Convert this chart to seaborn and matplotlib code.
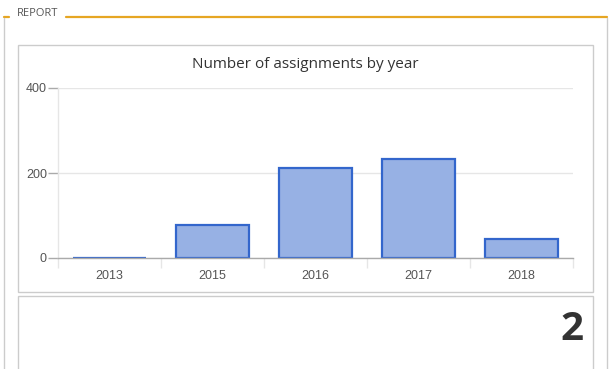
import matplotlib
matplotlib.use("Agg")
import matplotlib.pyplot as plt
import seaborn as sns
import pandas as pd
from matplotlib.lines import Line2D
from matplotlib.patches import Rectangle

years = ["2013", "2015", "2016", "2017", "2018"]
assignments = [1, 78, 212, 233, 45]
y_ticks = [0, 200, 400]
title = "Number of assignments by year"
kpi_value = "2"
section_label = "REPORT"

W, H = 614, 369
sns.set_theme(style="white")
plt.rcParams["font.family"] = ["Liberation Sans", "DejaVu Sans"]

fig = plt.figure(figsize=(W / 100, H / 100), dpi=100)
fig.patch.set_facecolor("white")

def fx(x):
    return x / W

def fy(y):
    return 1 - y / H

# outer fieldset frame
orange = "#e6a623"
fig.add_artist(Line2D([fx(3.5), fx(9)], [fy(17), fy(17)], color=orange, lw=1.6))
fig.add_artist(Line2D([fx(66), fx(607)], [fy(17), fy(17)], color=orange, lw=1.6))
fig.add_artist(Line2D([fx(4), fx(4)], [fy(18), fy(369)], color="#cccccc", lw=1))
fig.add_artist(Line2D([fx(606.5), fx(606.5)], [fy(18), fy(369)], color="#cccccc", lw=1))
fig.text(fx(17), fy(13), section_label, fontsize=8, color="#555555",
         family=["Open Sans", "DejaVu Sans"], va="center", ha="left")

# panels
fig.add_artist(Rectangle((fx(17.5), fy(291.5)), fx(592.5 - 17.5), fy(44.5) - fy(291.5),
                         fill=False, ec="#cccccc", lw=1))
fig.add_artist(Rectangle((fx(17.5), fy(372)), fx(592.5 - 17.5), fy(295.5) - fy(372),
                         fill=False, ec="#cccccc", lw=1))

# big KPI number
fig.text(fx(583), fy(329), kpi_value, fontsize=29, fontweight="bold", color="#333333",
         family=["Open Sans", "DejaVu Sans"], ha="right", va="center")

# chart title, centred on the panel
fig.text(fx(305), fy(64.5), title, fontsize=11, color="#333333",
         family=["Open Sans", "DejaVu Sans"], ha="center", va="center")

# chart
ax = fig.add_axes([fx(58), fy(258), fx(573 - 58), fy(88) - fy(258)])
df = pd.DataFrame({"year": years, "count": assignments})
sns.barplot(data=df, x="year", y="count", ax=ax, color="#97b1e4",
            edgecolor="#3366cc", linewidth=1.6, width=0.7, saturation=1)
ax.set_xlim(-0.5, len(years) - 0.5)
ax.set_ylim(0, 400)
ax.set_yticks(y_ticks)
ax.set_xlabel("")
ax.set_ylabel("")
ax.set_axisbelow(True)
ax.yaxis.grid(True, color="#e6e6e6", lw=1)
ax.xaxis.grid(False)
for s in ["top", "right"]:
    ax.spines[s].set_visible(False)
ax.spines["left"].set_color("#e6e6e6")
ax.spines["left"].set_linewidth(1)
ax.spines["bottom"].set_color("#aaaaaa")
ax.spines["bottom"].set_linewidth(1)
ax.tick_params(axis="y", length=7, width=1, color="#aaaaaa", labelsize=9,
               labelcolor="#555555", pad=1, left=True)
ax.tick_params(axis="x", length=0, labelsize=9, labelcolor="#555555", pad=8.5)
ax.set_xticks([i - 0.5 for i in range(len(years) + 1)], minor=True)
ax.tick_params(axis="x", which="minor", length=7.5, width=1, color="#e6e6e6", bottom=True)

fig.savefig("out.png", dpi=100, facecolor="white")
